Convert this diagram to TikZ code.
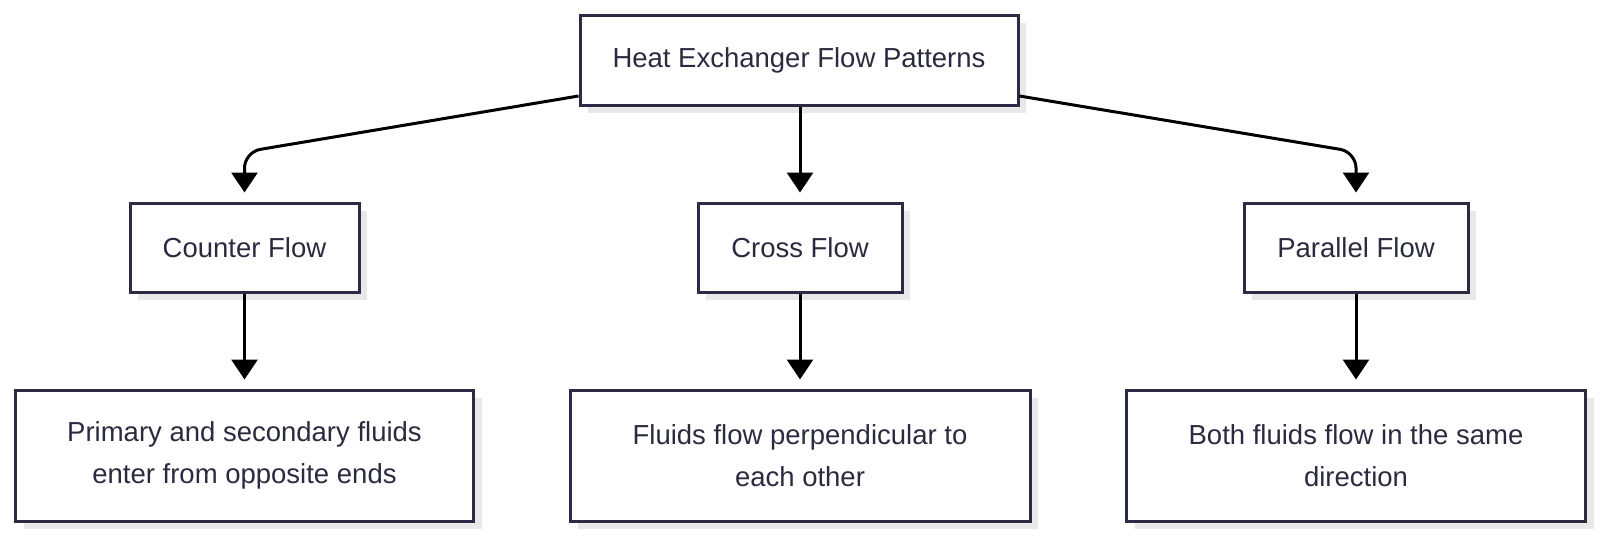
\documentclass[tikz,border=0pt]{standalone}
\usepackage{fontspec}
\setmainfont{Liberation Sans}
\usetikzlibrary{arrows.meta,shadows}
\definecolor{boxline}{HTML}{2B2B45}
\definecolor{txt}{HTML}{2B2B40}
\definecolor{shade}{HTML}{E8E8E8}
\tikzset{
  fcbox/.style={draw=boxline, line width=3pt, fill=white, inner sep=0pt,
    align=center, text=txt, font=\fontsize{27.5}{42}\selectfont,
    drop shadow={shadow xshift=8pt, shadow yshift=-8pt, fill=shade, opacity=1}},
  conn/.style={draw=black, line width=3pt, rounded corners=16pt,
    -{Triangle[length=20pt,width=26pt]}, shorten >=9pt}
}
\begin{document}
\begin{tikzpicture}[x=1pt,y=-1pt]
\useasboundingbox (0,0) rectangle (1600,539);
\node[fcbox, minimum width=438pt, minimum height=90pt] (top) at (799,60) {Heat Exchanger Flow Patterns};
\node[fcbox, minimum width=229pt, minimum height=89pt] (cf) at (244.5,247.5) {Counter Flow};
\node[fcbox, minimum width=204pt, minimum height=89pt] (xf) at (800,247.5) {Cross Flow};
\node[fcbox, minimum width=224pt, minimum height=89pt] (pf) at (1356,247.5) {Parallel Flow};
\node[fcbox, minimum width=458pt, minimum height=131pt] (cfd) at (244.5,455.5) {Primary and secondary fluids\\enter from opposite ends};
\node[fcbox, minimum width=460pt, minimum height=131pt] (xfd) at (800,455.5) {Fluids flow perpendicular to\\each other};
\node[fcbox, minimum width=459pt, minimum height=131pt] (pfd) at (1356,455.5) {Both fluids flow in the same\\direction};
\coordinate (lb) at (244.5,152);
\coordinate (rb) at (1356,152);
\draw[conn] (top.west |- 0,96) -- (lb) -- (cf.north);
\draw[conn] (top.south -| xf.north) -- (xf.north);
\draw[conn] (top.east |- 0,96) -- (rb) -- (pf.north);
\draw[conn] (cf.south) -- (cfd.north);
\draw[conn] (xf.south) -- (xfd.north);
\draw[conn] (pf.south) -- (pfd.north);
\end{tikzpicture}
\end{document}
